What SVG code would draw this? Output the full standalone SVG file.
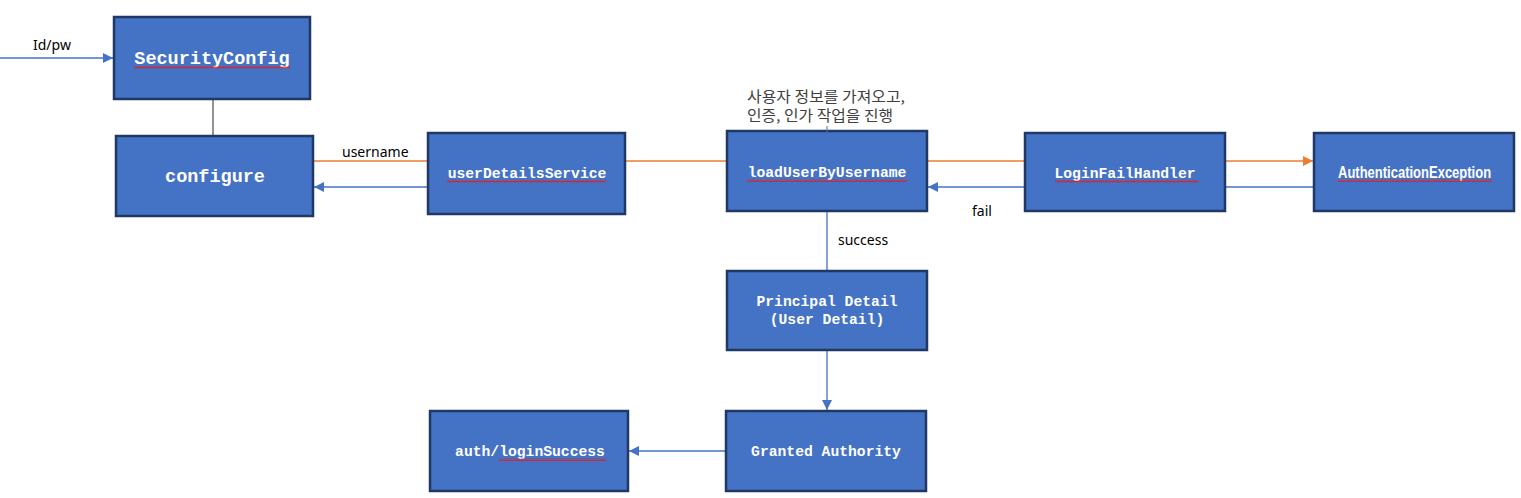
<svg xmlns="http://www.w3.org/2000/svg" width="1521" height="498" viewBox="0 0 1521 498">
<style>
.box{fill:#4472C4;stroke:#1F3864;stroke-width:2.5}
.mono{font-family:"Liberation Mono","Courier New",monospace;font-weight:bold;fill:#FFFFFF}
.big{font-size:18.5px}
.sm{font-size:14.7px}
.lbl{font-family:"Noto Sans","Liberation Sans",sans-serif;font-size:14px;fill:#000000}
.kr{font-family:"Noto Sans CJK KR","Noto Sans",sans-serif;font-size:14.5px;fill:#404040}
.blue{stroke:#4472C4;stroke-width:1.3;fill:none}
.orange{stroke:#ED7D31;stroke-width:1.3;fill:none}
.gray{stroke:#595959;stroke-width:1.3;fill:none}
.sq{fill:url(#squig)}
</style>
<defs>
<marker id="ab" viewBox="0 0 10 10" refX="10" refY="5" markerWidth="10" markerHeight="10" markerUnits="userSpaceOnUse" orient="auto">
<path d="M0,0 L10,5 L0,10 z" fill="#4472C4"/>
</marker>
<marker id="ao" viewBox="0 0 10 10" refX="10" refY="5" markerWidth="10" markerHeight="10" markerUnits="userSpaceOnUse" orient="auto">
<path d="M0,0 L10,5 L0,10 z" fill="#ED7D31"/>
</marker>
<pattern id="squig" width="4" height="3" patternUnits="userSpaceOnUse">
<path d="M0,2.5 L1,0.5 L2,2.5 L3,0.5 L4,2.5" stroke="#E02020" stroke-width="0.8" fill="none"/>
</pattern>
</defs>

<g id="connectors">
<line class="blue" x1="0" y1="58" x2="113" y2="58" marker-end="url(#ab)"/>
<line class="gray" x1="213" y1="99" x2="213" y2="136"/>
<line class="orange" x1="313" y1="161" x2="428" y2="161"/>
<line class="blue" x1="428" y1="187" x2="314" y2="187" marker-end="url(#ab)"/>
<line class="orange" x1="625" y1="161" x2="727" y2="161"/>
<line class="orange" x1="927" y1="161" x2="1025" y2="161"/>
<line class="orange" x1="1226" y1="161" x2="1313" y2="161" marker-end="url(#ao)"/>
<line class="blue" x1="1314" y1="187" x2="928" y2="187" marker-end="url(#ab)"/>
<line class="blue" x1="827" y1="212" x2="827" y2="271"/>
<line class="blue" x1="827" y1="350" x2="827" y2="410" marker-end="url(#ab)"/>
<line class="blue" x1="726" y1="451" x2="629" y2="451" marker-end="url(#ab)"/>
<text class="lbl" x="33" y="50">Id/pw</text>
<text class="lbl" x="342" y="157">username</text>
<text class="lbl" x="972" y="216">fail</text>
<text class="lbl" x="838" y="245">success</text>
</g>

<g id="SecurityConfig">
<rect class="box" x="114" y="17" width="196" height="82"/>
<text class="mono big" x="212" y="64" text-anchor="middle">SecurityConfig</text>
<rect class="sq" x="134" y="66" width="156" height="3"/>
</g>

<g id="configure">
<rect class="box" x="116" y="136" width="197" height="80"/>
<text class="mono big" x="215" y="182" text-anchor="middle">configure</text>
</g>

<g id="userDetailsService">
<rect class="box" x="428" y="133" width="197" height="81"/>
<text class="mono sm" x="527" y="178" text-anchor="middle">userDetailsService</text>
<rect class="sq" x="447" y="180" width="159" height="3"/>
</g>

<g id="loadUserByUsername">
<rect class="box" x="727" y="131" width="200" height="80"/>
<line x1="827" y1="126" x2="827" y2="132" stroke="#4472C4" stroke-width="1"/>
<text class="mono sm" x="827" y="177" text-anchor="middle">loadUserByUsername</text>
<rect class="sq" x="747" y="179" width="160" height="3"/>
<text class="kr" x="747" y="102" textLength="158" lengthAdjust="spacingAndGlyphs">사용자 정보를 가져오고,</text>
<text class="kr" x="747" y="121" textLength="146" lengthAdjust="spacingAndGlyphs">인증, 인가 작업을 진행</text>
</g>

<g id="LoginFailHandler">
<rect class="box" x="1025" y="133" width="200" height="78"/>
<text class="mono sm" x="1125" y="178" text-anchor="middle">LoginFailHandler</text>
<rect class="sq" x="1055" y="180" width="143" height="3"/>
</g>

<g id="AuthenticationException">
<rect class="box" x="1314" y="133" width="200" height="78"/>
<text transform="translate(1338,178) scale(1,1.22)" x="0" y="0" font-family="Liberation Sans, Arial, sans-serif" font-weight="bold" font-size="13" fill="#FFFFFF">AuthenticationException</text>
<rect class="sq" x="1338" y="179" width="154" height="3"/>
</g>

<g id="PrincipalDetail">
<rect class="box" x="727" y="271" width="200" height="79"/>
<text class="mono sm" x="827" y="306" text-anchor="middle">Principal Detail</text>
<text class="mono sm" x="827" y="324" text-anchor="middle">(User Detail)</text>
</g>

<g id="GrantedAuthority">
<rect class="box" x="726" y="411" width="200" height="80"/>
<text class="mono sm" x="826" y="456" text-anchor="middle">Granted Authority</text>
</g>

<g id="authLoginSuccess">
<rect class="box" x="430" y="411" width="198" height="80"/>
<text class="mono sm" x="530" y="456" text-anchor="middle">auth/loginSuccess</text>
<rect class="sq" x="499" y="458" width="107" height="3"/>
</g>
</svg>
